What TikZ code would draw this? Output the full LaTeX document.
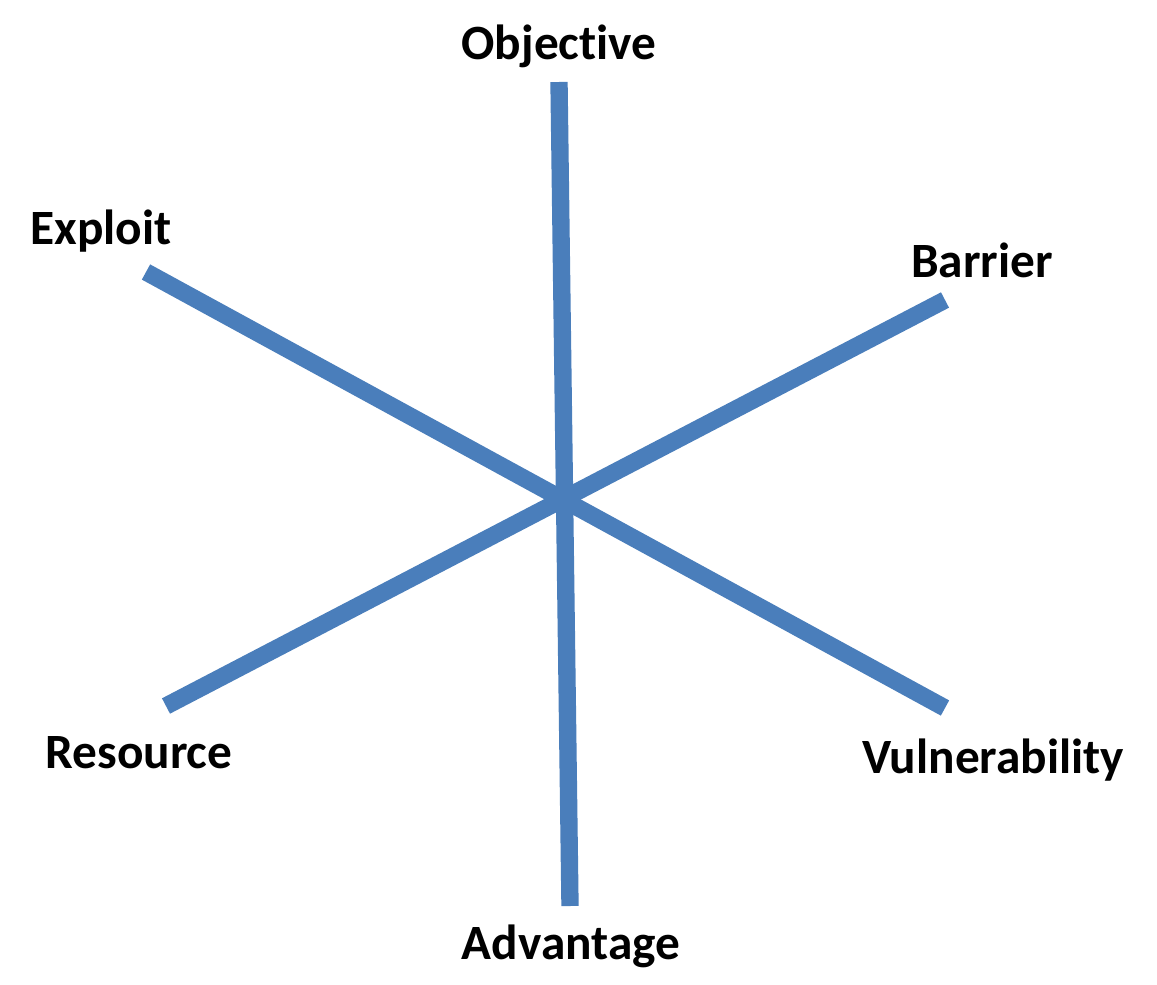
\documentclass[tikz,border=0pt]{standalone}
\usepackage{fontspec}
\setmainfont{Carlito}[Ligatures={NoCommon}]
\usepackage{tikz}
\usepackage{xcolor}
\definecolor{spoke}{RGB}{74,126,187}

\begin{document}
\begin{tikzpicture}[x=0.75pt,y=0.75pt,yscale=-1,xscale=1,
  spoke/.style={draw=spoke,line width=13pt},
  label/.style={font=\fontsize{37}{43}\selectfont\bfseries,inner sep=0pt}]
\useasboundingbox (0,0) rectangle (1157,985);

% Spoke ends
\coordinate (objEnd) at (559,82);
\coordinate (advEnd) at (570,906);
\coordinate (expEnd) at (146,272);
\coordinate (vulEnd) at (945,708);
\coordinate (barEnd) at (945,300);
\coordinate (resEnd) at (166,706);

% Straight Lines
\draw [spoke] (objEnd) -- (advEnd) ;
\draw [spoke] (expEnd) -- (vulEnd) ;
\draw [spoke] (barEnd) -- (resEnd) ;

% Text Node
\node [label] (objective) at (559,46) {Objective};
% Text Node
\node [label] (exploit) at (101,231) {Exploit};
% Text Node
\node [label] (barrier) at (982,260) {Barrier};
% Text Node
\node [label] (resource) at (139,753) {Resource};
% Text Node
\node [label] (vulnerability) at (993,760) {Vulnerability};
% Text Node
\node [label] (advantage) at (571,946) {Advantage};

\end{tikzpicture}
\end{document}
